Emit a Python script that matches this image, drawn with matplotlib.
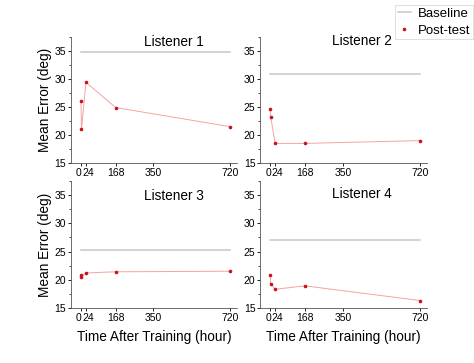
import matplotlib
matplotlib.use('Agg')
from matplotlib import pyplot as plt
from matplotlib.ticker import MultipleLocator
from matplotlib.transforms import ScaledTranslation

plt.rcParams['font.family'] = ['Liberation Sans', 'DejaVu Sans']

hours = [0, 2, 24, 168, 720]
xticks = [0, 24, 168, 350, 720]
yticks = [15, 20, 25, 30, 35]

titles = ['Listener 1', 'Listener 2', 'Listener 3', 'Listener 4']
baseline = [34.8, 30.9, 25.2, 27.1]
post_test = [
    [26.0, 21.0, 29.4, 24.9, 21.5],
    [24.6, 23.3, 18.5, 18.5, 19.0],
    [20.9, 20.5, 21.2, 21.4, 21.5],
    [20.8, 19.3, 18.3, 18.9, 16.3],
]

fig = plt.figure(figsize=(4.74, 3.63), dpi=100)
positions = [
    [0.150, 0.551, 0.350, 0.347],
    [0.549, 0.551, 0.352, 0.347],
    [0.150, 0.152, 0.350, 0.349],
    [0.549, 0.152, 0.352, 0.349],
]
title_xy = [(0.62, 0.963), (0.61, 0.97), (0.62, 0.885), (0.61, 0.90)]

for k in range(4):
    ax = fig.add_axes(positions[k])
    bl, = ax.plot([hours[0], hours[-1]], [baseline[k]] * 2,
                  color='#c8c8c8', lw=1.1, label='Baseline')
    ax.plot(hours, post_test[k], color='#f5a3a3', lw=0.7)
    pt, = ax.plot(hours, post_test[k], ls='none', marker='o', ms=1.6,
                  color='#c8141e', label='Post-test')
    ax.set_xlim(-48, 755)
    ax.set_ylim(15, 37.5)
    ax.set_xticks(xticks)
    ax.set_yticks(yticks)
    ax.yaxis.set_minor_locator(MultipleLocator(2.5))
    ax.tick_params(labelsize=7.5, length=2.5, width=0.6, pad=1)
    ax.tick_params(which='minor', length=1.5, width=0.5)
    # nudge the crowded 0 / 24 labels so they sit side by side
    labels = ax.get_xticklabels()
    labels[0].set_transform(labels[0].get_transform() +
                            ScaledTranslation(-1.5 / 72, 0, fig.dpi_scale_trans))
    labels[1].set_transform(labels[1].get_transform() +
                            ScaledTranslation(1.8 / 72, 0, fig.dpi_scale_trans))
    for side in ['top', 'right']:
        ax.spines[side].set_visible(False)
    for side in ['left', 'bottom']:
        ax.spines[side].set_linewidth(0.6)
        ax.spines[side].set_color('#555555')
    ax.text(title_xy[k][0], title_xy[k][1], titles[k], transform=ax.transAxes,
            ha='center', va='center', fontsize=9.8)
    if k % 2 == 0:
        ax.set_ylabel('Mean Error (deg)', fontsize=9.8, labelpad=2)
    if k >= 2:
        ax.set_xlabel('Time After Training (hour)', fontsize=9.8, labelpad=5)

leg = fig.legend([bl, pt], ['Baseline', 'Post-test'], loc='upper right',
                 bbox_to_anchor=(1.0, 0.99), fontsize=9.5, fancybox=False,
                 handlelength=1.0, handletextpad=0.5, borderpad=0.2,
                 labelspacing=0.35, borderaxespad=0.1)
leg.get_frame().set_edgecolor('#d0d0d0')
leg.get_frame().set_linewidth(0.6)

fig.savefig('out.png', dpi=100)
